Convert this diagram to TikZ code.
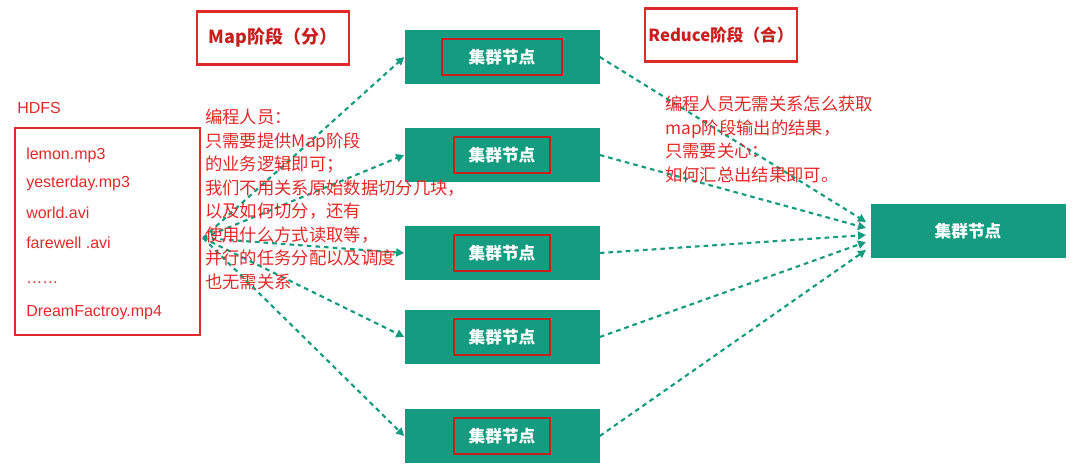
\documentclass[tikz,border=0pt]{standalone}
\usepackage{fontspec}
\setmainfont{Liberation Sans}
\newfontfamily\cjk{Noto Sans CJK SC}
\usetikzlibrary{arrows.meta}
\definecolor{tealc}{HTML}{159C80}
\definecolor{redc}{HTML}{E02A2A}
\definecolor{darkred}{HTML}{C81E1E}
\tikzset{
 gbox/.style={fill=tealc,minimum width=146.25pt,minimum height=40pt,inner sep=0pt},
 ibox/.style={draw=darkred,line width=1.6pt,minimum width=88pt,minimum height=27pt,text=white,font=\cjk\bfseries\fontsize{12.5}{14}\selectfont},
 lbl/.style={draw=redc,line width=1.8pt,minimum width=114pt,minimum height=40pt,inner xsep=2pt,text=darkred,font=\cjk\bfseries\fontsize{13.5}{15}\selectfont},
 arr/.style={draw=tealc,line width=1.6pt,dash pattern=on 3.5pt off 3pt,-{Triangle[length=6pt,width=6pt]}},
 note/.style={text=redc,font=\cjk\fontsize{13}{17.6}\selectfont,align=left,anchor=north west,inner sep=0pt},
 item/.style={text=redc,font=\fontsize{12}{14}\selectfont,anchor=west,inner sep=0pt}
}
\begin{document}
\begin{tikzpicture}[x=0.75pt,y=-0.75pt]
\useasboundingbox (0,0) rectangle (1076,472);
\node[lbl] (map) at (273,38) {Map阶段（分）};
\node[lbl,font=\cjk\bfseries\fontsize{12.5}{15}\selectfont] (red) at (721,35) {Reduce阶段（合）};
\foreach \i/\y/\w in {1/57/90,2/155/72,3/253/72,4/337/72,5/436/72}{
 \node[gbox] (g\i) at (502,\y) {};
 \node[ibox,minimum width=\w pt] (i\i) at (502,\y) {集群节点};
}
\node[gbox] (gr) at (968,231) {};
\node[text=white,font=\cjk\bfseries\fontsize{12.5}{14}\selectfont] (tr) at (968,231) {集群节点};
\node[text=redc,font=\fontsize{12}{14}\selectfont,anchor=west,inner sep=0pt] (hdfs) at (17,108) {HDFS};
\draw[redc,line width=0.8pt] (15,128) rectangle (200,335);
\node[item] (f1) at (26,155) {lemon.mp3};
\node[item] (f2) at (26,183) {yesterday.mp3};
\node[item] (f3) at (26,213) {world.avi};
\node[item] (f4) at (26,243) {farewell .avi};
\node[item] (f5) at (26,283) {……};
\node[item] (f6) at (26,313) {DreamFactroy.mp4};
\coordinate (src) at (203,238);
\foreach \i in {1,2,3,4,5}{\draw[arr] (src) -- (g\i.west);}
\foreach \i/\d in {1/222,2/228,3/235,4/242,5/250}{
 \coordinate (d\i) at (866,\d);
 \draw[arr] (g\i.east) -- (d\i);}
\node[note] (n1) at (205,109) {编程人员：\\只需要提供Map阶段\\的业务逻辑即可；\\我们不用关系原始数据切分几块，\\以及如何切分，还有\\使用什么方式读取等，\\并行的任务分配以及调度\\也无需关系};
\node[note] (n2) at (665,96) {编程人员无需关系怎么获取\\map阶段输出的结果，\\只需要关心：\\如何汇总出结果即可。};
\end{tikzpicture}
\end{document}
